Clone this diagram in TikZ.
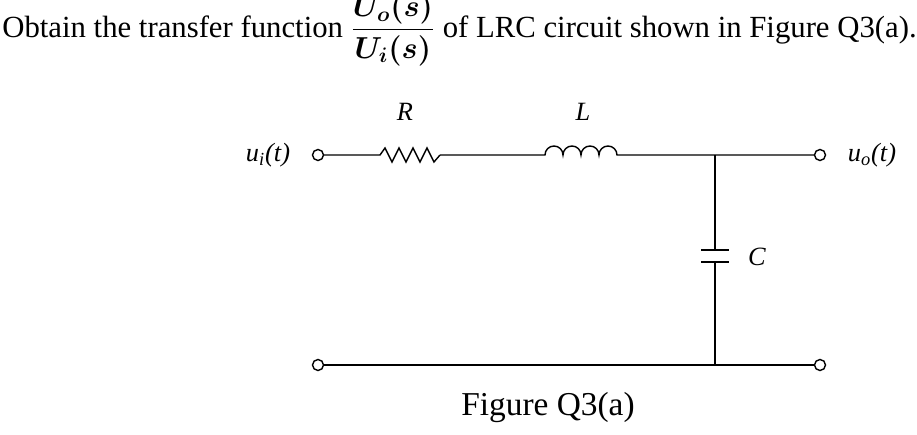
\documentclass[tikz,border=0pt]{standalone}
\usepackage{fontspec}
\usepackage{amsmath,bm}
\setmainfont{Liberation Serif}
\begin{document}
\begin{tikzpicture}[x=0.02cm,y=-0.02cm,
  wire/.style={line width=0.8pt},
  term/.style={circle,draw,line width=0.8pt,minimum size=0.22cm,inner sep=0pt},
  lbl/.style={font=\fontsize{15}{18}\selectfont\itshape}]
\useasboundingbox (0,0) rectangle (917,435);
\node[anchor=west,inner sep=0pt,font=\fontsize{17.5}{21}\selectfont] (title) at (2,30)
  {Obtain the transfer function $\dfrac{\bm{U_o(s)}}{\bm{U_i(s)}}$ of LRC circuit shown in Figure Q3(a).};
\node[term] (t1) at (318,155) {};
\node[term] (t2) at (820,155) {};
\node[term] (t3) at (318,365) {};
\node[term] (t4) at (820,365) {};
\coordinate (r1) at (380,155);
\coordinate (r2) at (440,155);
\coordinate (l1) at (545,155);
\coordinate (l2) at (617,155);
\coordinate (j) at (715,155);
\coordinate (c1) at (715,250);
\coordinate (c2) at (715,262);
\coordinate (jb) at (715,365);
\draw[wire] (t1) -- (r1) -- ++(5,-7) -- ++(7,14) -- ++(7,-14) -- ++(7,14) -- ++(7,-14) -- ++(7,14) -- ++(7,-14) -- ++(7,14) -- (r2);
\draw[wire] (r2) -- (l1)
  arc[start angle=180,end angle=360,radius=9] arc[start angle=180,end angle=360,radius=9]
  arc[start angle=180,end angle=360,radius=9] arc[start angle=180,end angle=360,radius=9] -- (j) -- (t2);
\draw[wire] (j) -- (c1);
\draw[wire] (701,250) -- (729,250);
\draw[wire] (701,262) -- (729,262);
\draw[wire] (c2) -- (jb);
\draw[wire] (t3) -- (jb) -- (t4);
\node[lbl] (R) at (405,112) {R};
\node[lbl] (L) at (583,112) {L};
\node[lbl] (C) at (757,257) {C};
\node[lbl] (ui) at (268,155) {u\textsubscript{i}(t)};
\node[lbl] (uo) at (872,155) {u\textsubscript{o}(t)};
\node[font=\fontsize{19}{22}\selectfont] (fig) at (548,408) {Figure Q3(a)};
\end{tikzpicture}
\end{document}
